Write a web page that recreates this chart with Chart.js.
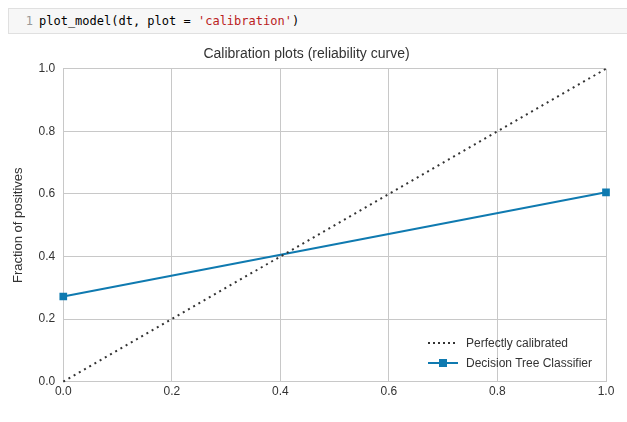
<!DOCTYPE html>
<html>
<head>
<meta charset="utf-8">
<script src="https://cdn.jsdelivr.net/npm/chart.js@4"></script>
<style>
  body { margin: 0; background: #fff; font-family: "Liberation Sans", Arial, sans-serif; }
  #cell { position: absolute; left: 8px; top: 8px; width: 618px; height: 24px; background: #f7f7f7; border: 1px solid #e0e0e0;
          font-family: "DejaVu Sans Mono", monospace; font-size: 12px; line-height: 24px; }
  #cell .n { color: #999; display: inline-block; width: 24px; text-align: right; margin-right: 6px; }
  #cell .s { color: #ba2121; }
  #wrap { position: absolute; left: 0; top: 42px; width: 627px; height: 360px; }
  #legend { position: absolute; left: 428px; top: 333px; font-size: 12px; color: #333; line-height: 20px; }
  #legend div { display: flex; align-items: center; }
  #legend svg { margin-right: 8px; }
</style>
</head>
<body>
<div id="cell"><span class="n">1</span>plot_model(dt, plot = <span class="s">'calibration'</span>)</div>
<div id="wrap"><canvas id="calChart"></canvas></div>
<div id="legend">
  <div><svg width="30" height="10"><line x1="0" y1="5" x2="30" y2="5" stroke="#333" stroke-width="2" stroke-dasharray="2,3"/></svg>Perfectly calibrated</div>
  <div><svg width="30" height="10"><line x1="0" y1="5" x2="30" y2="5" stroke="#0f7ab0" stroke-width="2"/><rect x="11" y="1" width="8" height="8" fill="#0f7ab0"/></svg>Decision Tree Classifier</div>
</div>
<script>
const perfectX = [0, 1];
const perfectY = [0, 1];
const treeX = [0, 1];
const treeY = [0.272, 0.605];

const ctx = document.getElementById('calChart').getContext('2d');
new Chart(ctx, {
    type: 'line',
    data: {
        datasets: [
            {
                label: 'Perfectly calibrated',
                data: perfectX.map((x, i) => ({ x: x, y: perfectY[i] })),
                borderColor: '#333',
                borderWidth: 2,
                borderDash: [2, 4],
                pointRadius: 0,
                fill: false
            },
            {
                label: 'Decision Tree Classifier',
                data: treeX.map((x, i) => ({ x: x, y: treeY[i] })),
                borderColor: '#0f7ab0',
                backgroundColor: '#0f7ab0',
                borderWidth: 2,
                pointStyle: 'rect',
                pointRadius: 4,
                fill: false
            }
        ]
    },
    options: {
        responsive: true,
        maintainAspectRatio: false,
        animation: false,
        clip: false,
        layout: { padding: { left: 7, right: 21, top: 0 } },
        scales: {
            x: {
                type: 'linear', min: 0, max: 1,
                ticks: { stepSize: 0.2, color: '#333', font: { size: 12 }, callback: v => v.toFixed(1) },
                grid: { color: '#c8c8c8', drawTicks: false },
                border: { color: '#c8c8c8' }
            },
            y: {
                min: 0, max: 1,
                ticks: { stepSize: 0.2, color: '#333', font: { size: 12 }, padding: 8, callback: v => v.toFixed(1) },
                grid: { color: '#c8c8c8', drawTicks: false },
                border: { color: '#c8c8c8' },
                title: { display: true, text: 'Fraction of positives', color: '#333', font: { size: 13 } }
            }
        },
        plugins: {
            legend: { display: false },
            tooltip: { enabled: false },
            title: { display: true, text: 'Calibration plots (reliability curve)', color: '#333', font: { size: 14, weight: 'normal' }, padding: { top: 4, bottom: 6 } }
        }
    }
});
</script>
</body>
</html>
